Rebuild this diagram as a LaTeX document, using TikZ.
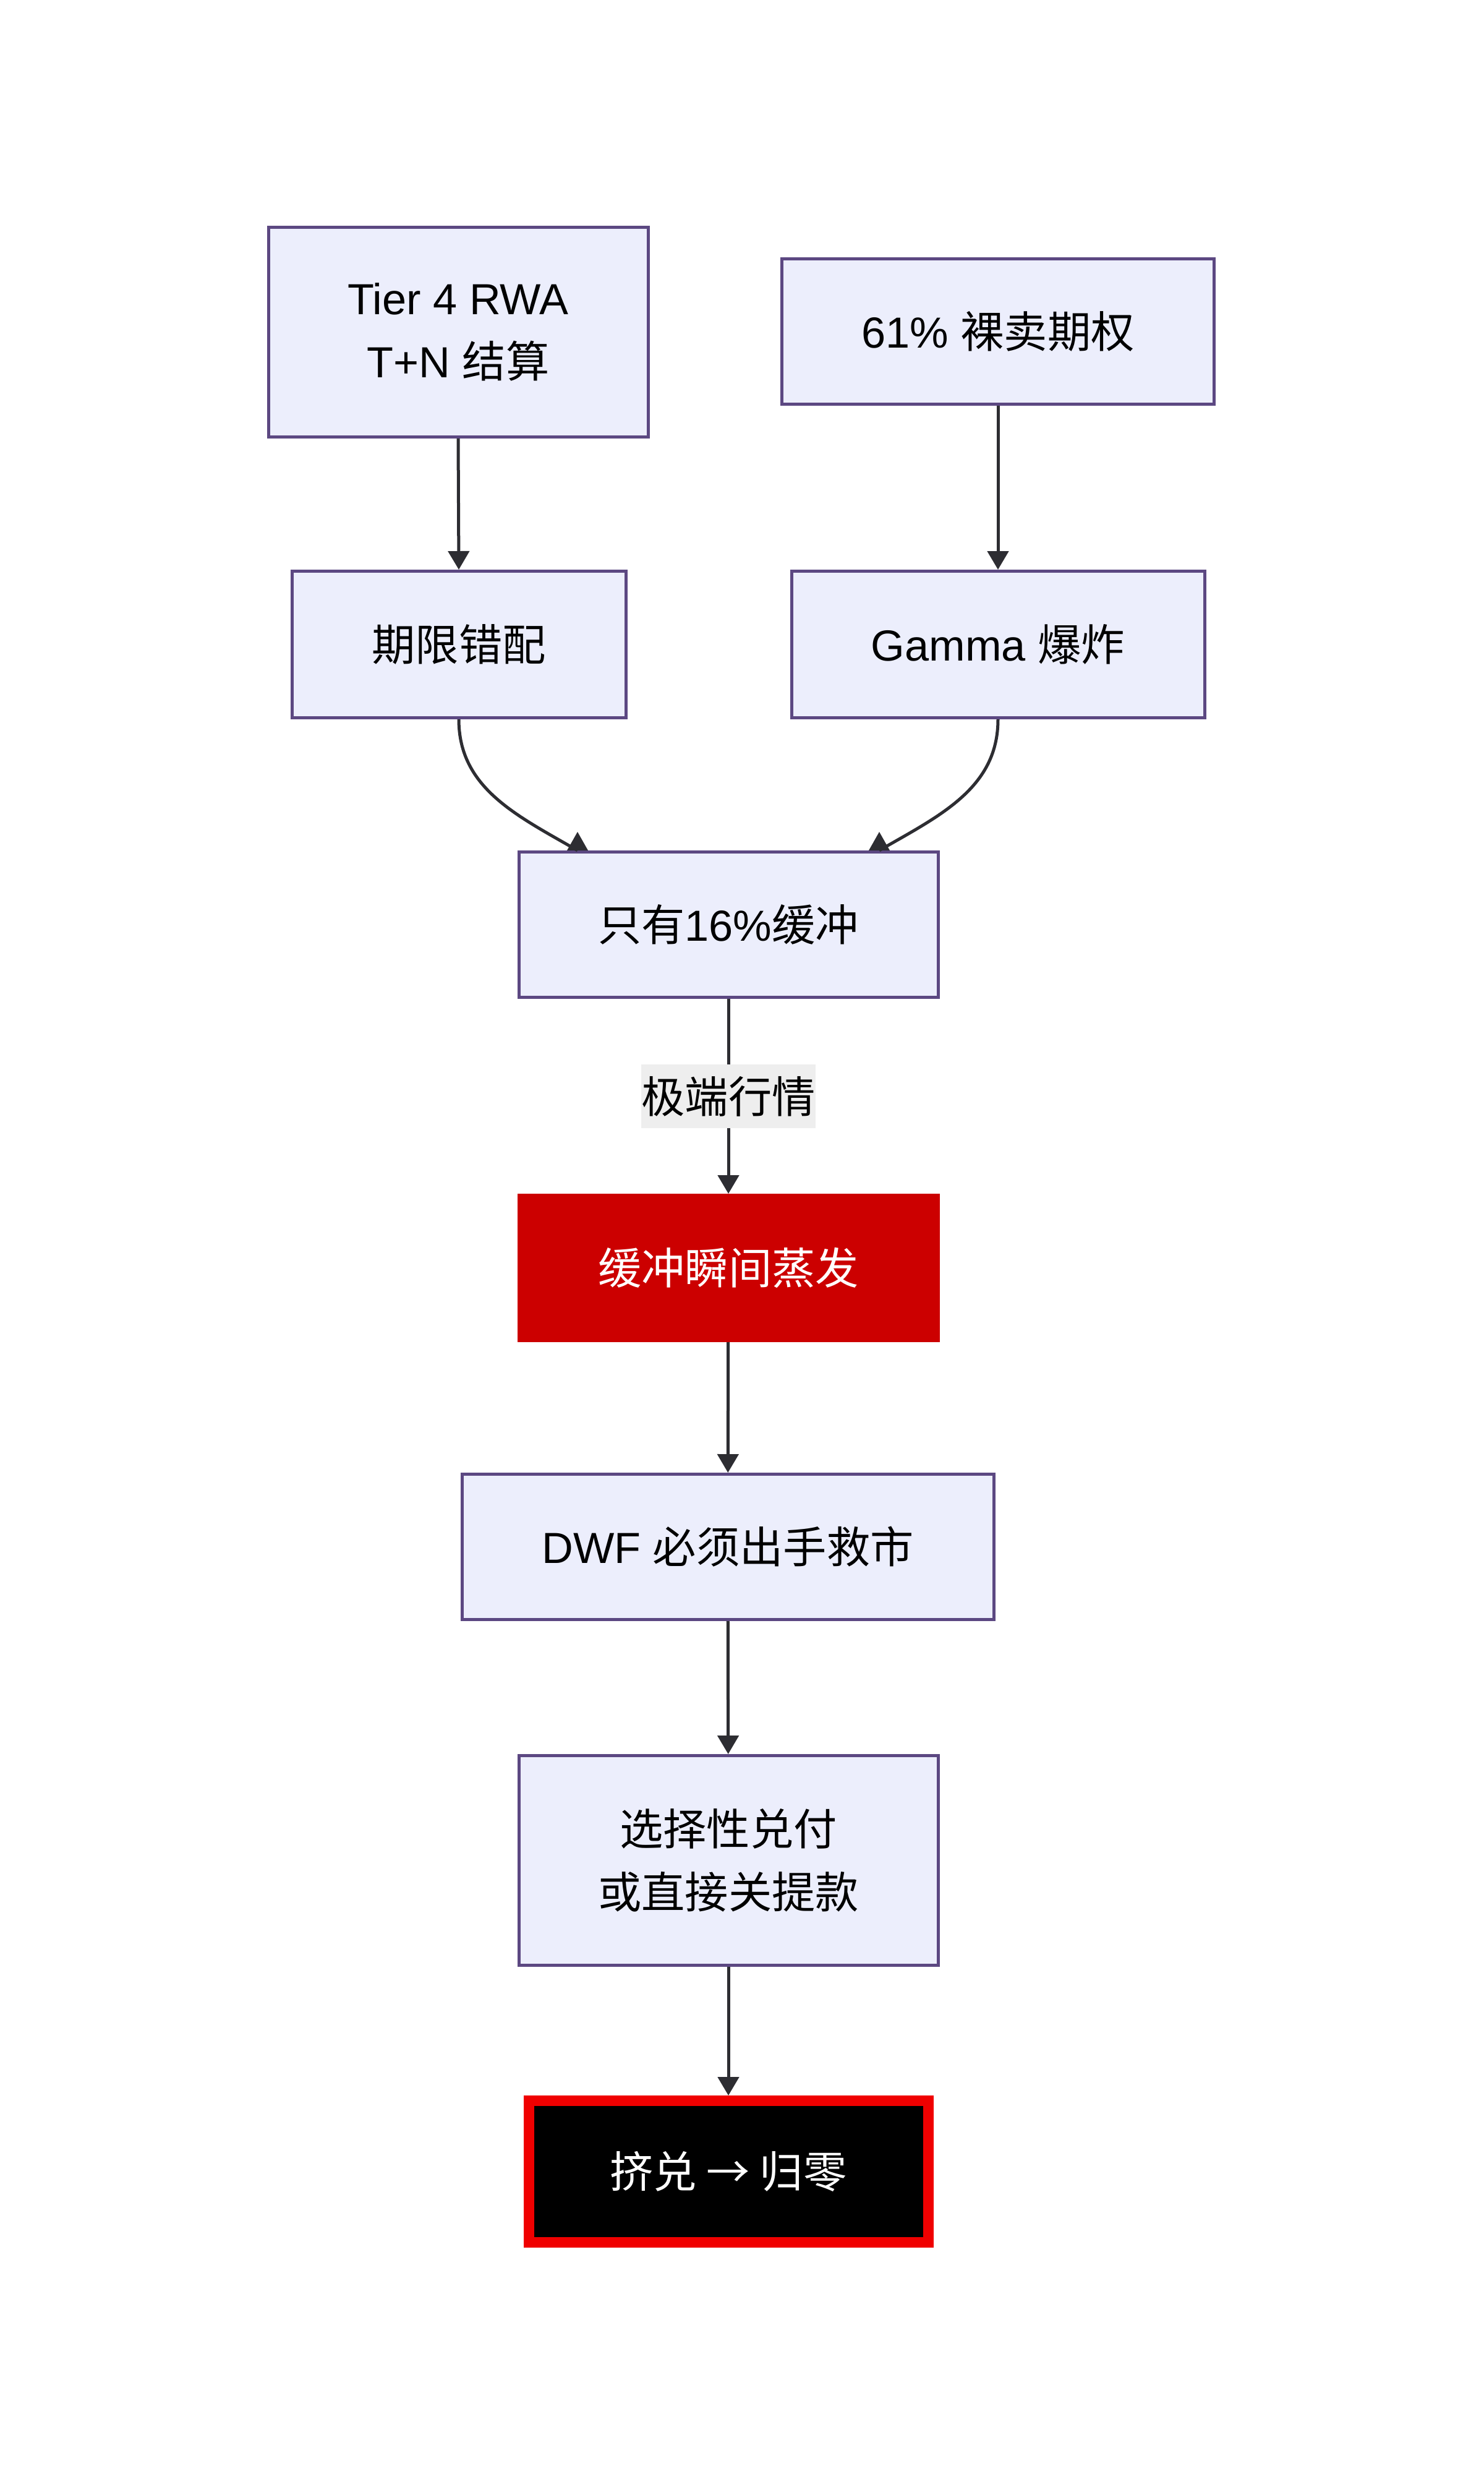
\documentclass[tikz,border=0pt]{standalone}
\usepackage{fontspec}
\setmainfont{Liberation Sans}
\newfontfamily\cjk{Noto Sans CJK SC}
\usetikzlibrary{arrows.meta}

\definecolor{boxfill}{RGB}{236,238,252}
\definecolor{boxline}{RGB}{92,72,130}
\definecolor{linkc}{RGB}{45,45,50}
\definecolor{alarm}{RGB}{204,0,0}
\definecolor{hotred}{RGB}{240,0,0}
\definecolor{lblbg}{RGB}{238,238,238}

\tikzset{
    stage/.style={draw=boxline, fill=boxfill, line width=0.05cm, inner sep=0pt,
        align=center, font=\fontsize{20}{29}\selectfont},
    link/.style={draw=linkc, line width=0.05cm, -{Triangle[length=0.3cm,width=0.34cm]}},
    curve/.style={draw=linkc, line width=0.05cm},
    lbl/.style={fill=lblbg, inner sep=0pt, minimum width=2.8cm, minimum height=1.03cm,
        font=\fontsize{20}{29}\selectfont}
}

\begin{document}
\begin{tikzpicture}
            \useasboundingbox (0,0) rectangle (24,-40);
            \node[stage, minimum width=6.14cm, minimum height=3.39cm] (rwa) at (7.41,-5.37) {Tier 4 RWA\\T+N {\cjk 结算}};
            \node[stage, minimum width=6.99cm, minimum height=2.35cm] (naked) at (16.14,-5.36) {61\% {\cjk 裸卖期权}};
            \node[stage, minimum width=5.40cm, minimum height=2.37cm] (mismatch) at (7.42,-10.42) {\cjk 期限错配};
            \node[stage, minimum width=6.68cm, minimum height=2.37cm] (gamma) at (16.14,-10.42) {Gamma {\cjk 爆炸}};
            \node[stage, minimum width=6.78cm, minimum height=2.35cm] (buffer) at (11.78,-14.95) {{\cjk 只有}16\%{\cjk 缓冲}};
            \node[stage, fill=alarm, draw=alarm, text=white, minimum width=6.78cm, minimum height=2.35cm] (vanish) at (11.78,-20.5) {\cjk 缓冲瞬间蒸发};
            \node[stage, minimum width=8.60cm, minimum height=2.35cm] (dwf) at (11.77,-25.01) {DWF {\cjk 必须出手救市}};
            \node[stage, minimum width=6.78cm, minimum height=3.39cm] (gate) at (11.78,-30.08) {{\cjk 选择性兑付}\\{\cjk 或直接关提款}};
            \node[stage, fill=black, draw=hotred, line width=0.17cm, text=white, minimum width=6.46cm, minimum height=2.29cm] (zero) at (11.78,-35.11) {\cjk 挤兑 → 归零};
            \draw[link] (rwa.south) -- (mismatch.north);
            \draw[link] (naked.south) -- (gamma.north);
            \coordinate (inL) at ([xshift=-2.44cm]buffer.north);
            \coordinate (inR) at ([xshift=2.44cm]buffer.north);
            \draw[curve] (mismatch.south) to[out=-90,in=150] (inL);
            \draw[curve] (gamma.south) to[out=-90,in=30] (inR);
            \foreach \p in {inL,inR}
                \fill[linkc] ([xshift=-0.17cm]\p) -- ([xshift=0.17cm]\p) -- ([yshift=0.3cm]\p) -- cycle;
            \draw[link] (buffer) -- node[lbl] {\cjk 极端行情} (vanish);
            \draw[link] (vanish) -- (dwf);
            \draw[link] (dwf) -- (gate);
            \draw[link] (gate) -- (zero);
        \end{tikzpicture}
\end{document}
